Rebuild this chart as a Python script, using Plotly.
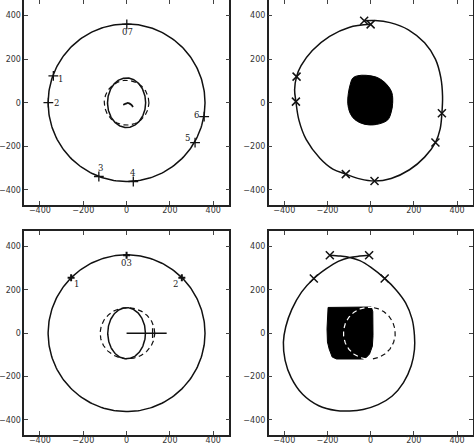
import numpy as np
import plotly.graph_objects as go

# ---------------- data ----------------
tick_vals = [-400, -200, 0, 200, 400]
tick_text = ["\u2212400", "\u2212200", "0", "200", "400"]

# panel 1 (top-left)
p1_orbit_r = 362
p1_ellipse_ab = [88, 114]
p1_dash_r = 103
p1_hook_x = [-15, -8, 0, 5, 12, 20, 26, 29]
p1_hook_y = [-10, -6, -3, -1, -3, -8, -14, -20]
p1_mark_x = [1, -338, -361, -128, 31, 316, 358]
p1_mark_y = [360, 123, 0, -339, -362, -183, -64]
p1_lab_text = ["07", "1", "2", "3", "4", "5", "6"]
p1_lab_x = [2, -307, -325, -119, 29, 283, 321]
p1_lab_y = [324, 109, 0, -300, -323, -160, -57]

# panel 2 (top-right)
p2_orbit_x = [0, -100, -190, -270, -322, -343, -352, -346, -332, -298, -235, -175,
              -115, -50, 18, 95, 180, 250, 300, 322, 330, 333, 325, 300, 250,
              175, 90, 20, -30]
p2_orbit_y = [360, 346, 305, 240, 170, 120, 60, 5, -80, -170, -255, -305,
              -328, -350, -360, -348, -308, -250, -183, -120, -48, 30, 115, 200, 275,
              335, 368, 378, 377]
p2_mark_x = [0, -343, -346, -115, 18, 300, 330, -30]
p2_mark_y = [360, 120, 5, -328, -360, -183, -48, 377]
p2_blob_x = [-83, -60, -21, 25, 55, 83, 99, 102, 94, 79, 40, -6, -44, -75, -95, -106, -103, -95]
p2_blob_y = [113, 124, 126, 118, 102, 74, 44, -2, -48, -79, -97, -102, -94, -76, -48, -2, 44, 82]
p2_dash_r = 100

# panel 3 (bottom-left)
p3_orbit_r = 362
p3_ellipse_ab = [87, 118]
p3_dash_ab = [126, 118]
p3_dash_cx = 4
p3_vec_x = [0, 185]
p3_vec_y = [0, 0]
p3_vec_tick = [120, 0]
p3_mark_x = [0, -256, 255]
p3_mark_y = [360, 256, 256]
p3_lab_text = ["03", "1", "2"]
p3_lab_x = [1, -230, 228]
p3_lab_y = [322, 229, 229]

# panel 4 (bottom-right)
p4_orbit_x = [-7, -50, -97, -150, -205, -263, -320, -365, -393, -404, -396, -368,
              -315, -240, -160, -97, -35, 35, 100, 152, 188, 203, 203, 192, 162,
              118, 65, 0, -50, -97, -140, -189]
p4_orbit_y = [360, 356, 350, 332, 298, 253, 190, 110, 30, -42, -125, -205,
              -282, -335, -357, -359, -352, -330, -290, -228, -150, -75, -11, 65, 140,
              200, 253, 305, 335, 350, 356, 360]
p4_mark_x = [-7, -263, 65, -189]
p4_mark_y = [360, 253, 253, 360]
p4_shape_x = [-197, 3, 10, 12, 11, 8, -5, -20, -35, -158, -178, -192, -200, -202, -200]
p4_shape_y = [119, 121, 100, 40, -11, -60, -96, -112, -119, -119, -110, -73, -40, 20, 80]
p4_dash_c = [-6, 0]
p4_dash_r = 120

# ---------------- layout geometry ----------------
W, H = 474, 445
col_dom = [[24.3 / W, 229.3 / W], [268.7 / W, 473.0 / W]]
row_dom = [[1 - 205.0 / H, 1.0], [1 - 435.0 / H, 1 - 231.0 / H]]
xr = [-472, 474]
yr = [-470, 472]

fig = go.Figure()
LW = 1.5
BLK = "#111111"
DASH = "5px,3.5px"

def ax_names(i):
    s = "" if i == 1 else str(i)
    return "x" + s, "y" + s

def circ(cx, cy, rx, ry, t0=0.0, t1=2 * np.pi, n=240):
    t = np.linspace(t0, t1, n)
    return cx + rx * np.cos(t), cy + ry * np.sin(t)

def line(i, x, y, color=BLK, dash=None, width=LW, shape="linear"):
    xa, ya = ax_names(i)
    fig.add_trace(go.Scatter(x=x, y=y, xaxis=xa, yaxis=ya, mode="lines",
                             line=dict(color=color, width=width, dash=dash, shape=shape),
                             hoverinfo="skip", showlegend=False))

def marks(i, x, y, symbol, size=7, width=1.3):
    xa, ya = ax_names(i)
    fig.add_trace(go.Scatter(x=x, y=y, xaxis=xa, yaxis=ya, mode="markers",
                             marker=dict(symbol=symbol, size=size, color=BLK,
                                         line=dict(color=BLK, width=width)),
                             hoverinfo="skip", showlegend=False))

def labels(i, xs, ys, texts):
    xa, ya = ax_names(i)
    for x, y, t in zip(xs, ys, texts):
        fig.add_annotation(x=x, y=y, xref=xa, yref=ya, text=t, showarrow=False,
                           font=dict(family="DejaVu Serif", size=8.5, color="#222"))

# panel 1
x, y = circ(0, 0, p1_orbit_r, p1_orbit_r)
line(1, x, y)
x, y = circ(0, 0, p1_ellipse_ab[0], p1_ellipse_ab[1])
line(1, x, y)
x, y = circ(0, 0, p1_dash_r, p1_dash_r)
line(1, x, y, dash=DASH, width=1.2)
line(1, p1_hook_x, p1_hook_y, shape="spline", width=1.8)
marks(1, p1_mark_x, p1_mark_y, "cross-thin", size=7)
labels(1, p1_lab_x, p1_lab_y, p1_lab_text)

# panel 2
x, y = circ(0, 0, p2_dash_r, p2_dash_r)
line(2, x, y, dash=DASH, width=1.2)
fig.add_trace(go.Scatter(x=p2_blob_x + [p2_blob_x[0]], y=p2_blob_y + [p2_blob_y[0]],
                         xaxis="x2", yaxis="y2", mode="lines", fill="toself",
                         fillcolor="#000000", line=dict(color="#000000", width=1, shape="spline"),
                         hoverinfo="skip", showlegend=False))
line(2, p2_orbit_x, p2_orbit_y, shape="spline")
marks(2, p2_mark_x, p2_mark_y, "x-thin", size=8, width=1.5)

# panel 3
x, y = circ(0, 0, p3_orbit_r, p3_orbit_r)
line(3, x, y)
x, y = circ(0, 0, p3_ellipse_ab[0], p3_ellipse_ab[1])
line(3, x, y)
x, y = circ(p3_dash_cx, 0, p3_dash_ab[0], p3_dash_ab[1])
line(3, x, y, dash=DASH, width=1.2)
line(3, p3_vec_x, p3_vec_y)
marks(3, [p3_vec_tick[0]], [p3_vec_tick[1]], "line-ns", size=7, width=1.3)
marks(3, p3_mark_x, p3_mark_y, "cross-thin", size=5, width=2)
labels(3, p3_lab_x, p3_lab_y, p3_lab_text)

# panel 4
fig.add_trace(go.Scatter(x=p4_shape_x + [p4_shape_x[0]], y=p4_shape_y + [p4_shape_y[0]],
                         xaxis="x4", yaxis="y4", mode="lines", fill="toself",
                         fillcolor="#000000", line=dict(color="#000000", width=1),
                         hoverinfo="skip", showlegend=False))
cx, cy = p4_dash_c
x, y = circ(cx, cy, p4_dash_r, p4_dash_r, np.deg2rad(82), np.deg2rad(278), 130)
line(4, x, y, color="#ffffff", dash=DASH, width=1.2)
x, y = circ(cx, cy, p4_dash_r, p4_dash_r, np.deg2rad(-82), np.deg2rad(82), 110)
line(4, x, y, dash=DASH, width=1.2)
line(4, p4_orbit_x, p4_orbit_y, shape="spline")
marks(4, p4_mark_x, p4_mark_y, "x-thin", size=8, width=1.5)

# ---------------- axes ----------------
axis_common = dict(showgrid=False, zeroline=False, showline=True, mirror="ticks",
                   linecolor="#222", linewidth=1.5, ticks="inside", ticklen=4,
                   tickcolor="#444", tickwidth=1, tickvals=tick_vals, ticktext=tick_text,
                   tickfont=dict(family="DejaVu Sans", size=8, color="#333"),
                   automargin=False, fixedrange=True)
lay = {}
for i in range(1, 5):
    r, c = (i - 1) // 2, (i - 1) % 2
    s = "" if i == 1 else str(i)
    lay["xaxis" + s] = dict(axis_common, domain=col_dom[c], range=xr,
                            anchor="y" + s, ticklabelstandoff=-3)
    lay["yaxis" + s] = dict(axis_common, domain=row_dom[r], range=yr,
                            anchor="x" + s)

fig.update_layout(width=W, height=H, margin=dict(l=0, r=0, t=0, b=0),
                  paper_bgcolor="white", plot_bgcolor="white", showlegend=False,
                  **lay)

fig.write_html("out.html", config={"displayModeBar": False},
               post_script="document.body.style.margin='0';document.body.style.overflow='hidden';")
